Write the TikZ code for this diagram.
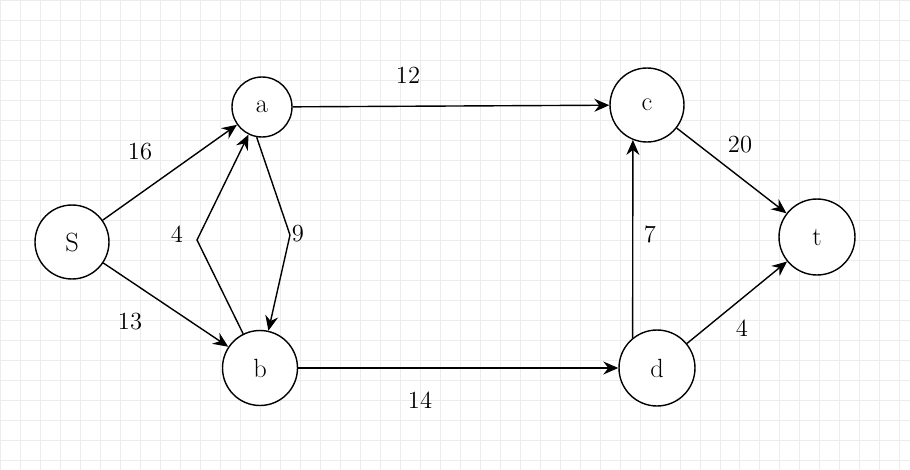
\documentclass[tikz,border=0pt]{standalone}
\usepackage{tikz}
\usetikzlibrary{arrows.meta}
\tikzset{
main/.style = {draw, circle, thick, fill=white, font=\fontsize{15}{17}\selectfont},
flow/.style = {-{Stealth[length=3mm, width=2.6mm, inset=1mm]}, thick},
lbl/.style = {font=\fontsize{14}{16}\selectfont},
}
\begin{document}
\begin{tikzpicture}[x=0.02cm, y=-0.02cm]
    \useasboundingbox (0,0) rectangle (910,470);
    \draw[gray!15, step=0.4cm] (0,0) grid (910,470);

    \node[main, minimum size=1.48cm] (S) at (72,242) {S};
    \node[main, minimum size=1.2cm] (a) at (262,107) {a};
    \node[main, minimum size=1.5cm] (b) at (260,368) {b};
    \node[main, minimum size=1.48cm] (c) at (647,105) {c};
    \node[main, minimum size=1.52cm] (d) at (657,368) {d};
    \node[main, minimum size=1.52cm] (t) at (817,237) {t};
    \coordinate (m1) at (290,235);
    \coordinate (m2) at (197,240);

    \draw [flow] (S) -- (a);
    \draw [flow] (S) -- (b);
    \draw [flow] (a) -- (c);
    \draw [flow] (b) -- (d);
    \draw [flow] (d.129) -- (c.248);
    \draw [flow] (c) -- (t);
    \draw [flow] (d) -- (t);
    \draw [flow] (a.260) -- (m1) -- (b);
    \draw [flow] (b) -- (m2) -- (a);

    \node[lbl] (l1) at (140,152) {16};
    \node[lbl] (l2) at (130,322) {13};
    \node[lbl] (l3) at (177,234) {4};
    \node[lbl] (l4) at (298,234) {9};
    \node[lbl] (l5) at (408,75) {12};
    \node[lbl] (l6) at (420,400) {14};
    \node[lbl] (l7) at (650,234) {7};
    \node[lbl] (l8) at (740,145) {20};
    \node[lbl] (l9) at (742,328) {4};
\end{tikzpicture}
\end{document}
